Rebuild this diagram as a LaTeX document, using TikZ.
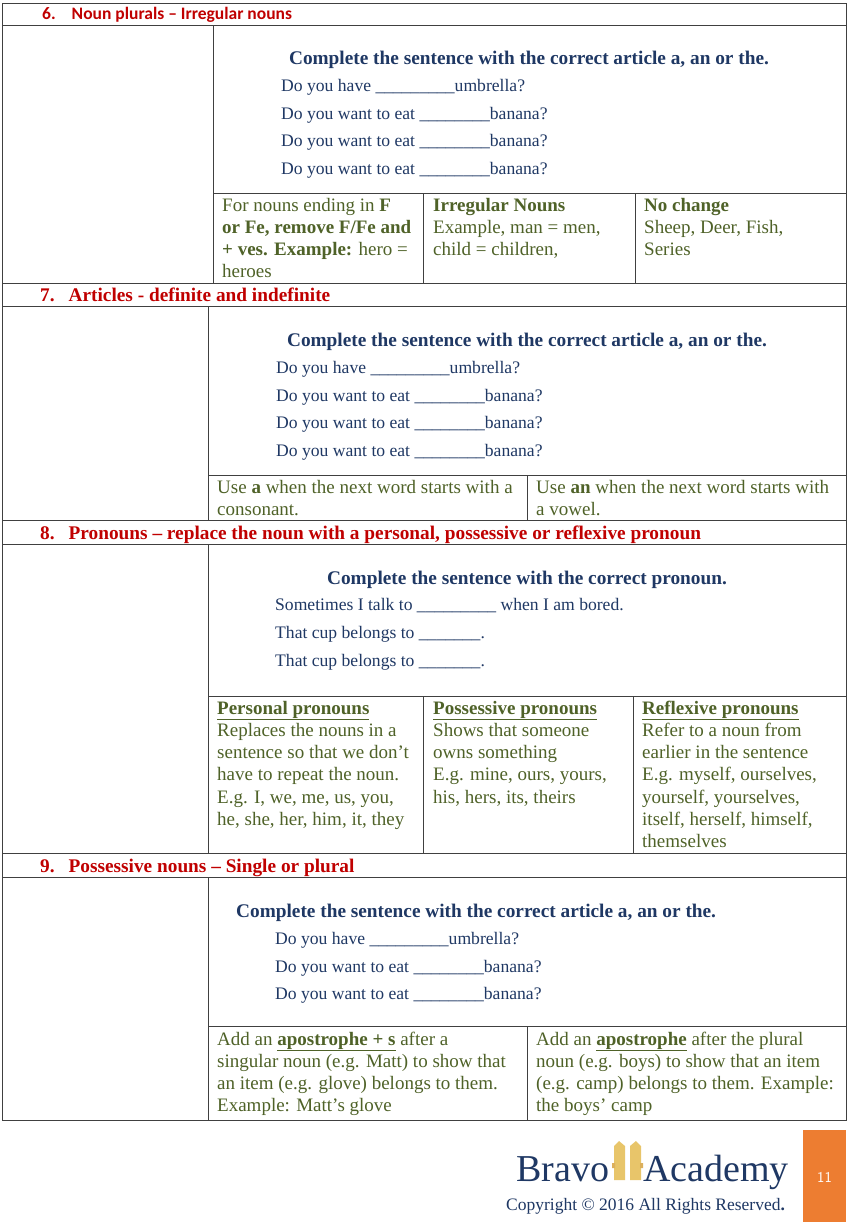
\documentclass[tikz,border=0pt]{standalone}
\usepackage{fontspec}
\setmainfont{Liberation Serif}
\newfontfamily\calib{Carlito}
\definecolor{navy}{HTML}{1F3864}
\definecolor{olive}{HTML}{4F6228}
\definecolor{hred}{HTML}{C00000}
\definecolor{orng}{HTML}{ED7D31}
\definecolor{gold}{HTML}{E8C56A}
\begin{document}
\begin{tikzpicture}[x=1pt,y=-1pt,
  ln/.style={draw=black!75,line width=0.8pt},
  tx/.style={anchor=base west,inner sep=0,font=\fontsize{19}{22}\selectfont},
  q/.style={anchor=base west,inner sep=0,text=navy,font=\fontsize{17.6}{20}\selectfont},
  g/.style={tx,text=olive},
  ttl/.style={anchor=base,inner sep=0,text=navy,font=\fontsize{19.3}{22}\selectfont\bfseries},
  hd/.style={anchor=base west,inner sep=0,text=hred,font=\fontsize{19.3}{22}\selectfont\bfseries}]
\useasboundingbox (0,0) rectangle (847,1224);
\fill[white] (0,0) rectangle (847,1224);
% grid lines
\draw[ln] (2,3) rectangle (846,1120);
\foreach \y in {25,283,306,520,544,853,877} \draw[ln] (2,\y) -- (846,\y);
\draw[ln] (213,25) -- (213,283);
\draw[ln] (213,193) -- (846,193);
\draw[ln] (423,193) -- (423,283);
\draw[ln] (635,193) -- (635,283);
\draw[ln] (208,306) -- (208,520);
\draw[ln] (208,475) -- (846,475);
\draw[ln] (527,475) -- (527,520);
\draw[ln] (208,544) -- (208,853);
\draw[ln] (208,696) -- (846,696);
\draw[ln] (423,696) -- (423,853);
\draw[ln] (633,696) -- (633,853);
\draw[ln] (208,877) -- (208,1120);
\draw[ln] (208,1026) -- (846,1026);
\draw[ln] (527,1026) -- (527,1120);
% Section 6
\node[anchor=base west,inner sep=0,text=hred,font=\calib\fontsize{17.5}{20}\selectfont\bfseries] (h6) at (42,19) {6.\hspace{16pt}Noun plurals – Irregular nouns};
\node[ttl] (t6) at (529,64) {Complete the sentence with the correct article a, an or the.};
\node[q] (a1) at (281,91) {Do you have \_\_\_\_\_\_\_\_\_umbrella?};
\node[q] (a2) at (281,119) {Do you want to eat \_\_\_\_\_\_\_\_banana?};
\node[q] (a3) at (281,146) {Do you want to eat \_\_\_\_\_\_\_\_banana?};
\node[q] (a4) at (281,174) {Do you want to eat \_\_\_\_\_\_\_\_banana?};
\node[g] (b1) at (222,211) {For nouns ending in \textbf{F}};
\node[g] (b2) at (222,233) {\textbf{or Fe, remove F/Fe and}};
\node[g] (b3) at (222,255) {\textbf{+ ves. Example:} hero =};
\node[g] (b4) at (222,277) {heroes};
\node[g] (c1) at (433,211) {\textbf{Irregular Nouns}};
\node[g] (c2) at (433,233) {Example, man = men,};
\node[g] (c3) at (433,255) {child = children,};
\node[g] (d1) at (644,211) {\textbf{No change}};
\node[g] (d2) at (644,233) {Sheep, Deer, Fish,};
\node[g] (d3) at (644,255) {Series};
% Section 7
\node[hd] (h7) at (40,301) {7.\hspace{14pt}Articles - definite and indefinite};
\node[ttl] (t7) at (527,346) {Complete the sentence with the correct article a, an or the.};
\node[q] (e1) at (276,373) {Do you have \_\_\_\_\_\_\_\_\_umbrella?};
\node[q] (e2) at (276,401) {Do you want to eat \_\_\_\_\_\_\_\_banana?};
\node[q] (e3) at (276,428) {Do you want to eat \_\_\_\_\_\_\_\_banana?};
\node[q] (e4) at (276,456) {Do you want to eat \_\_\_\_\_\_\_\_banana?};
\node[g] (f1) at (217,493) {Use \textbf{a} when the next word starts with a};
\node[g] (f2) at (217,515) {consonant.};
\node[g] (f3) at (536,493) {Use \textbf{an} when the next word starts with};
\node[g] (f4) at (536,515) {a vowel.};
% Section 8
\node[hd] (h8) at (40,539) {8.\hspace{14pt}Pronouns – replace the noun with a personal, possessive or reflexive pronoun};
\node[ttl] (t8) at (527,584) {Complete the sentence with the correct pronoun.};
\node[q] (k1) at (275,610) {Sometimes I talk to \_\_\_\_\_\_\_\_\_ when I am bored.};
\node[q] (k2) at (275,638) {That cup belongs to \_\_\_\_\_\_\_.};
\node[q] (k3) at (275,666) {That cup belongs to \_\_\_\_\_\_\_.};
\node[g] (m1) at (217,714) {\textbf{\underline{Personal pronouns}}};
\node[g] (m2) at (217,736) {Replaces the nouns in a};
\node[g] (m3) at (217,758) {sentence so that we don’t};
\node[g] (m4) at (217,780) {have to repeat the noun.};
\node[g] (m5) at (217,803) {E.g. I, we, me, us, you,};
\node[g] (m6) at (217,825) {he, she, her, him, it, they};
\node[g] (n1) at (433,714) {\textbf{\underline{Possessive pronouns}}};
\node[g] (n2) at (433,736) {Shows that someone};
\node[g] (n3) at (433,758) {owns something};
\node[g] (n4) at (433,780) {E.g. mine, ours, yours,};
\node[g] (n5) at (433,803) {his, hers, its, theirs};
\node[g] (p1) at (642,714) {\textbf{\underline{Reflexive pronouns}}};
\node[g] (p2) at (642,736) {Refer to a noun from};
\node[g] (p3) at (642,758) {earlier in the sentence};
\node[g] (p4) at (642,780) {E.g. myself, ourselves,};
\node[g] (p5) at (642,803) {yourself, yourselves,};
\node[g] (p6) at (642,825) {itself, herself, himself,};
\node[g] (p7) at (642,847) {themselves};
% Section 9
\node[hd] (h9) at (40,872) {9.\hspace{14pt}Possessive nouns – Single or plural};
\node[ttl,anchor=base west] (t9) at (236,917) {Complete the sentence with the correct article a, an or the.};
\node[q] (r1) at (275,944) {Do you have \_\_\_\_\_\_\_\_\_umbrella?};
\node[q] (r2) at (275,972) {Do you want to eat \_\_\_\_\_\_\_\_banana?};
\node[q] (r3) at (275,999) {Do you want to eat \_\_\_\_\_\_\_\_banana?};
\node[g] (s1) at (217,1045) {Add an \textbf{\underline{apostrophe + s}} after a};
\node[g] (s2) at (217,1067) {singular noun (e.g. Matt) to show that};
\node[g] (s3) at (217,1089) {an item (e.g. glove) belongs to them.};
\node[g] (s4) at (217,1111) {Example: Matt’s glove};
\node[g] (u1) at (536,1045) {Add an \textbf{\underline{apostrophe}} after the plural};
\node[g] (u2) at (536,1067) {noun (e.g. boys) to show that an item};
\node[g] (u3) at (536,1089) {(e.g. camp) belongs to them. Example:};
\node[g] (u4) at (536,1111) {the boys’ camp};
% footer
\fill[orng] (803,1130) rectangle (846,1222);
\node[anchor=center,inner sep=0,text=white,font=\fontsize{15}{17}\selectfont\sffamily] (pg) at (824.5,1177) {11};
\node[anchor=base west,inner sep=0,text=navy,font=\fontsize{38}{42}\selectfont] (br) at (516,1181) {Bravo};
\fill[gold] (614,1146) -- (619,1141) -- (625,1146) -- (625,1180) -- (614,1180) -- cycle;
\fill[gold] (630,1146) -- (636,1141) -- (641,1146) -- (641,1180) -- (630,1180) -- cycle;
\fill[gold!70!brown] (612,1163) rectangle (615,1168) (640,1163) rectangle (643,1168);
\node[anchor=base west,inner sep=0,text=navy,font=\fontsize{38}{42}\selectfont] (ac) at (643,1181) {Academy};
\node[anchor=base west,inner sep=0,text=navy,font=\fontsize{17.5}{20}\selectfont] (cp) at (506,1210) {Copyright © 2016 All Rights Reserved\textbf{.}};
\end{tikzpicture}
\end{document}
